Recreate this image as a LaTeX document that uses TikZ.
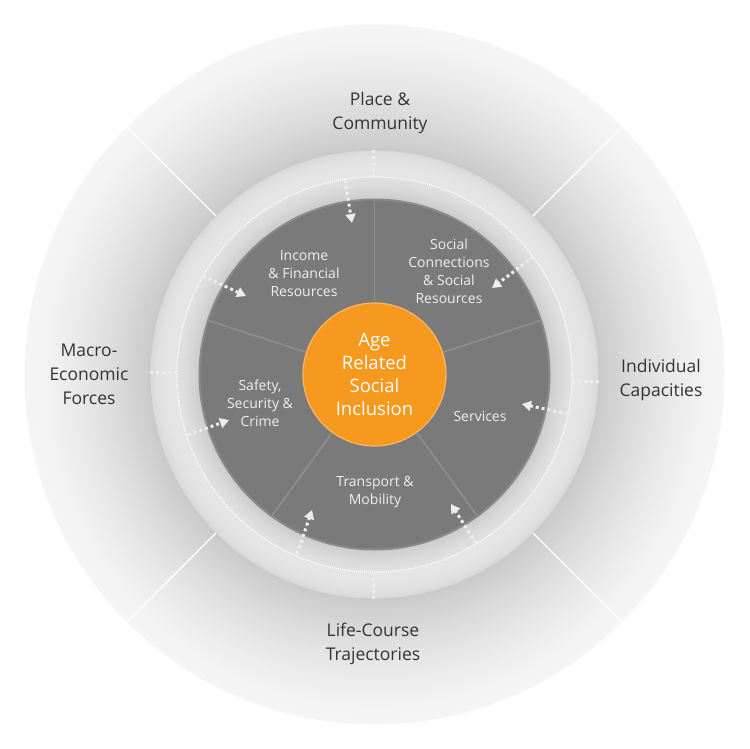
\documentclass[tikz,border=0pt]{standalone}
\usepackage{fontspec}
\setmainfont{Open Sans}
\usetikzlibrary{arrows.meta,calc}
\definecolor{orng}{HTML}{F7981F}
\definecolor{orngrim}{HTML}{FAB765}
\definecolor{diskgray}{HTML}{7A7A7A}
\definecolor{diskrim}{HTML}{8A8A8A}
\definecolor{divgray}{HTML}{8F8F8F}
\definecolor{dotwhite}{HTML}{EDEDED}
\definecolor{outertext}{HTML}{333333}
\definecolor{innertext}{HTML}{EEEEEE}
\tikzset{
  outerlbl/.style={align=center, text=outertext, font=\fontsize{17.5}{24}\selectfont, inner sep=0pt},
  sectorlbl/.style={align=center, text=innertext, font=\fontsize{14}{18}\selectfont, inner sep=0pt},
  corelbl/.style={align=center, text=white, font=\fontsize{18.5}{23}\selectfont, inner sep=0pt},
  divider/.style={draw=divgray, line width=1.5pt},
  outerdiv/.style={draw=white, line width=1.1pt},
  dotseg/.style={draw=dotwhite, line width=3pt, dash pattern=on 3pt off 3pt},
  dotarrow/.style={dotseg, -{Triangle[length=9pt,width=10pt]}},
}
\begin{document}
\begin{tikzpicture}[x=1pt,y=-1pt]
\useasboundingbox (0,0) rectangle (750,749);
\fill[white] (0,0) rectangle (750,749);
\coordinate (O) at (374.5,374.5);
% outer band: soft radial fade
\foreach \r in {350,348,...,224}{
  \pgfmathsetmacro\p{4+17*((350-\r)/126)^1.5}
  \fill[black!\p] (O) circle[radius=\r];
}
\node[circle, minimum size=700pt, inner sep=0pt] (outer) at (O) {};
\node[circle, minimum size=448pt, inner sep=0pt] (ring) at (O) {};
\foreach \a in {45,135,225,315}
  \draw[outerdiv] (ring.\a) -- (outer.\a);
% light ring
\foreach \r in {224,223,...,198}{
  \pgfmathsetmacro\p{10+5*(1-(224-\r)/26)^3}
  \fill[black!\p] (O) circle[radius=\r];
}
\foreach \r in {197.5,196.5,...,176}{
  \pgfmathsetmacro\p{12+8*((198-\r)/22)^1.5}
  \fill[black!\p] (O) circle[radius=\r];
}
\draw[white, line width=1.2pt, dash pattern=on 1pt off 1pt] (O) circle[radius=197.5];
\node[circle, minimum size=350pt, inner sep=0pt, fill=diskgray, draw=diskrim, line width=2pt] (disk) at (O) {};
\node[circle, minimum size=143pt, inner sep=0pt, fill=orng, draw=orngrim, line width=1.2pt] (core) at (O) {};
% sector dividers
\foreach \a in {90,18,-54,-126,162}
  \draw[divider] (core.\a) -- (disk.\a);
% core text
\node[corelbl] (coretext) at (374.5,374) {Age\\Related\\Social\\Inclusion};
% sector labels
\node[sectorlbl] (income) at (304,274) {Income\\\& Financial\\Resources};
\node[sectorlbl] (social) at (449,271) {Social\\Connections\\\& Social\\Resources};
\node[sectorlbl] (services) at (480,416) {Services};
\node[sectorlbl] (transport) at (375,492) {Transport \&\\Mobility};
\node[sectorlbl] (safety) at (260,403) {Safety,\\Security \&\\Crime};
% outer labels
\node[outerlbl] (place) at (380,113) {Place \&\\Community};
\node[outerlbl] (indiv) at (661,380) {Individual\\Capacities};
\node[outerlbl] (life) at (373,644) {Life-Course\\Trajectories};
\node[outerlbl] (macro) at (89,374) {Macro-\\Economic\\Forces};
% short dotted segments through the outer band of the ring
\coordinate (t1) at (373,150); \coordinate (t2) at (373,176);
\coordinate (l1) at (150,372); \coordinate (l2) at (177,372);
\coordinate (r1) at (599,381); \coordinate (r2) at (571,381);
\coordinate (b1) at (373,599); \coordinate (b2) at (373,572);
\draw[dotseg] (t1) -- (t2);
\draw[dotseg] (l1) -- (l2);
\draw[dotseg] (r1) -- (r2);
\draw[dotseg] (b1) -- (b2);
% arrows into sectors
\coordinate (a1s) at (345,180); \coordinate (a1e) at (352,223);
\coordinate (a2s) at (203,276); \coordinate (a2e) at (246,296);
\coordinate (a3s) at (188,435); \coordinate (a3e) at (229,420);
\coordinate (a4s) at (568,414); \coordinate (a4e) at (522,404);
\coordinate (a5s) at (533,257); \coordinate (a5e) at (492,288);
\coordinate (a6s) at (297,554); \coordinate (a6e) at (312,510);
\coordinate (a7s) at (476,543); \coordinate (a7e) at (451,504);
\draw[dotarrow] (a1s) -- (a1e);
\draw[dotarrow] (a2s) -- (a2e);
\draw[dotarrow] (a3s) -- (a3e);
\draw[dotarrow] (a4s) -- (a4e);
\draw[dotarrow] (a5s) -- (a5e);
\draw[dotarrow] (a6s) -- (a6e);
\draw[dotarrow] (a7s) -- (a7e);
\end{tikzpicture}
\end{document}
